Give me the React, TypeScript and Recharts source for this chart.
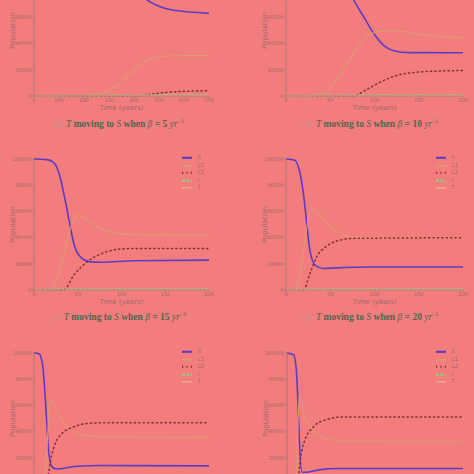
import React from 'react';
import { LineChart, Line, XAxis, YAxis } from 'recharts';

// [time, population] pairs
const sA = [[0, 100000], [150, 99800], [250, 98500], [320, 94000], [380, 86000], [420, 79000], [452, 73300], [504, 68200], [556, 65600], [624, 64100], [700, 63100]];
const l1A = [[0, 0], [200, 100], [264, 1500], [318, 6100], [370, 14500], [424, 23700], [476, 29000], [532, 30500], [600, 30800], [700, 30800]];
const l2A = [[0, 0], [420, 0], [470, 1500], [520, 2600], [580, 3400], [640, 3800], [700, 4000]];
const iA = [[0, 0], [300, 300], [450, 500], [700, 600]];
const tA = [[0, 0], [300, 200], [700, 400]];

const sB = [[0, 100000], [30, 99800], [50, 97500], [62, 91000], [70, 83000], [76.5, 73300], [87.8, 60500], [99, 47900], [110, 38900], [121.7, 34600], [140, 33100], [200, 33000]];
const l1B = [[0, 0], [30, 200], [42.6, 1800], [53.9, 9400], [69, 24600], [84, 39700], [95, 47300], [114, 49900], [133, 49100], [155.6, 46800], [178, 45300], [200, 44300]];
const l2B = [[0, 0], [76, 0], [90, 4500], [103, 9400], [125, 15700], [148, 18200], [171, 19000], [200, 19500]];
const iB = [[0, 0], [50, 200], [100, 600], [200, 600]];
const tB = [[0, 0], [60, 200], [200, 400]];

const sC = [[0, 100000], [15, 99500], [22.8, 97000], [28.5, 89300], [34, 74000], [40, 53500], [45.5, 35500], [53, 25300], [64.5, 21500], [76, 21200], [114, 22300], [200, 22800]];
const l1C = [[0, 0], [15, 0], [19, 500], [28.5, 12500], [36, 33000], [43.6, 50900], [50, 57300], [60.7, 53500], [76, 47000], [95, 43200], [114, 42200], [200, 42000]];
const l2C = [[0, 0], [34, 0], [45.5, 11300], [60.7, 21500], [76, 27400], [95, 31000], [114, 31700], [200, 31700]];
const iC = [[0, 0], [20, 300], [50, 600], [200, 600]];
const tC = [[0, 0], [25, 200], [200, 400]];

const sD = [[0, 100000], [10, 99000], [15.8, 89300], [19.6, 74000], [23.4, 50900], [27, 30400], [32.8, 19000], [42, 16400], [57, 16900], [95, 17600], [200, 17600]];
const l1D = [[0, 0], [8.3, 0], [15.8, 12500], [21.5, 38100], [27, 59800], [31, 61600], [38.5, 57300], [50, 48300], [65, 42000], [80, 40200], [200, 39900]];
const l2D = [[0, 0], [19.6, 0], [27, 12500], [34.7, 25300], [46, 33500], [57, 37300], [76, 39400], [200, 39900]];
const iD = [[0, 0], [15, 300], [40, 600], [200, 600]];
const tD = [[0, 0], [20, 200], [200, 400]];

const sE = [[0, 100000], [5.7, 99500], [9.5, 92300], [12, 74400], [14.4, 48700], [17, 23000], [21, 12800], [26.6, 11500], [45.5, 13300], [76, 14100], [200, 13800]];
const l1E = [[0, 0], [11, 0], [15, 30000], [17.5, 58000], [19, 64100], [26.6, 53800], [38, 43600], [53, 37700], [76, 35900], [200, 35600]];
const l2E = [[0, 0], [14, 0], [17, 9000], [19, 18000], [22.8, 28200], [30, 37200], [45.5, 43600], [60.7, 46200], [76, 46700], [200, 46700]];
const iE = [[0, 0], [12, 300], [30, 600], [200, 600]];
const tE = [[0, 0], [15, 200], [200, 400]];

const sF = [[0, 100000], [7.5, 98700], [10.6, 87200], [12.5, 61500], [14.4, 28200], [17, 9000], [22.6, 9000], [37.7, 11000], [56.6, 11800], [200, 11800]];
const l1F = [[0, 0], [10, 0], [12, 35000], [14, 67900], [18.9, 53800], [30, 41000], [45, 34600], [64.5, 32800], [200, 32600]];
const l2F = [[0, 0], [12, 0], [15, 18000], [18.9, 30700], [30, 43600], [45, 49200], [64.5, 51200], [200, 51200]];
const iF = [[0, 0], [10, 300], [25, 600], [200, 600]];
const tF = [[0, 0], [12, 200], [200, 400]];

const yTicks = [0, 20000, 40000, 60000, 80000, 100000];
const xTicksLong = [0, 100, 200, 300, 400, 500, 600, 700];
const xTicksShort = [0, 50, 100, 150, 200];
const letters = ['a', 'b', 'c', 'd', 'e', 'f'];
const betas = [5, 10, 15, 20];

const BG = '#f37d7d';
const AXIS = '#ad7676';
const TICK = '#9c6868';

const seriesStyle = [
    { name: 'S', color: '#5c3cc6', width: 1.6, dash: undefined },
    { name: 'L1', color: '#d99c6e', width: 1.1, dash: undefined },
    { name: 'L2', color: '#862c34', width: 1.5, dash: '1.2 3.2' },
    { name: 'I', color: '#9cc47c', width: 2, dash: '3 1.5' },
    { name: 'T', color: '#e7ad8c', width: 0.9, dash: undefined },
];

const panels = [
    { series: [sA, l1A, l2A, iA, tA], xMax: 700, ticks: xTicksLong, left: 34, top: -35, w: 175 },
    { series: [sB, l1B, l2B, iB, tB], xMax: 200, ticks: xTicksShort, left: 286, top: -35, w: 177 },
    { series: [sC, l1C, l2C, iC, tC], xMax: 200, ticks: xTicksShort, left: 34, top: 159, w: 175 },
    { series: [sD, l1D, l2D, iD, tD], xMax: 200, ticks: xTicksShort, left: 286, top: 159, w: 177 },
    { series: [sE, l1E, l2E, iE, tE], xMax: 200, ticks: xTicksShort, left: 34, top: 353, w: 175 },
    { series: [sF, l1F, l2F, iF, tF], xMax: 200, ticks: xTicksShort, left: 287, top: 353, w: 176 },
];

const PLOT_H = 131;
const Y_W = 30;

function Legend() {
    return (
        <div style={{ fontFamily: 'DejaVu Sans', fontSize: 5.5, color: TICK, lineHeight: '7.6px' }}>
            {seriesStyle.map(s => (
                <div key={s.name} style={{ display: 'flex', alignItems: 'center' }}>
                    <svg width={11} height={7.6}>
                        <line x1={0} x2={10} y1={3.8} y2={3.8} stroke={s.color} strokeWidth={s.width + 0.5} strokeDasharray={s.dash} />
                    </svg>
                    <span style={{ marginLeft: 4 }}>{s.name}</span>
                </div>
            ))}
        </div>
    );
}

function Panel({ p }) {
    return (
        <div style={{ position: 'absolute', left: p.left - Y_W, top: p.top - 5 }}>
            <LineChart width={p.w + Y_W + 5} height={PLOT_H + 5 + 18} margin={{ top: 5, right: 5, bottom: 0, left: 0 }}>
                <XAxis
                    type="number"
                    dataKey="t"
                    domain={[0, p.xMax]}
                    ticks={p.ticks}
                    height={18}
                    stroke={AXIS}
                    tickSize={1.5}
                    tickMargin={0.5}
                    tick={{ fontSize: 5, fill: TICK, fontFamily: 'DejaVu Sans' }}
                    allowDuplicatedCategory={false}
                    label={{ value: 'Time (years)', position: 'insideBottom', offset: 4, style: { fontSize: 7, fill: TICK, fontFamily: 'DejaVu Sans' } }}
                />
                <YAxis
                    type="number"
                    domain={[0, 100000]}
                    ticks={yTicks}
                    width={Y_W}
                    stroke={AXIS}
                    tickSize={1.5}
                    tickMargin={1}
                    tick={{ fontSize: 5, fill: TICK, fontFamily: 'DejaVu Sans' }}
                    label={{ value: 'Population', angle: -90, position: 'insideLeft', offset: 9, style: { textAnchor: 'middle', fontSize: 7, fill: TICK, fontFamily: 'DejaVu Sans' } }}
                />
                {p.series.map((pts, i) => {
                    const st = seriesStyle[i];
                    return (
                        <Line
                            key={st.name}
                            data={pts.map(([t, v]) => ({ t, v }))}
                            dataKey="v"
                            type="monotone"
                            stroke={st.color}
                            strokeWidth={st.width}
                            strokeDasharray={st.dash}
                            strokeLinecap={st.name === 'L2' ? 'round' : 'butt'}
                            dot={false}
                            isAnimationActive={false}
                        />
                    );
                })}
            </LineChart>
            <div style={{ position: 'absolute', right: 10, top: 0 }}>
                <Legend />
            </div>
        </div>
    );
}

function Caption({ idx }) {
    const col = idx % 2;
    const row = Math.floor(idx / 2);
    return (
        <div style={{
            position: 'absolute', left: col === 0 ? 0 : 252, width: 237, top: 118 + row * 193,
            textAlign: 'center', fontFamily: 'Liberation Serif', fontWeight: 'bold', fontSize: 9.5, color: '#4d6651', whiteSpace: 'nowrap',
        }}>
            <span style={{ color: '#cf9090', fontWeight: 'normal' }}>({letters[idx]})</span>{' '}
            <i style={{ fontWeight: 'normal' }}>T</i> moving to <i style={{ fontWeight: 'normal' }}>S</i> when <i style={{ fontWeight: 'normal' }}>β</i> = {betas[idx]}{' '}
            <i style={{ fontWeight: 'normal' }}>yr</i><sup style={{ fontSize: 6, fontWeight: 'normal' }}>−1</sup>
        </div>
    );
}

export default function App() {
    return (
        <div style={{ position: 'fixed', left: 0, top: 0, width: 474, height: 474, background: BG, overflow: 'hidden' }}>
            {panels.map((p, i) => <Panel key={i} p={p} />)}
            {betas.map((b, i) => <Caption key={b} idx={i} />)}
        </div>
    );
}
